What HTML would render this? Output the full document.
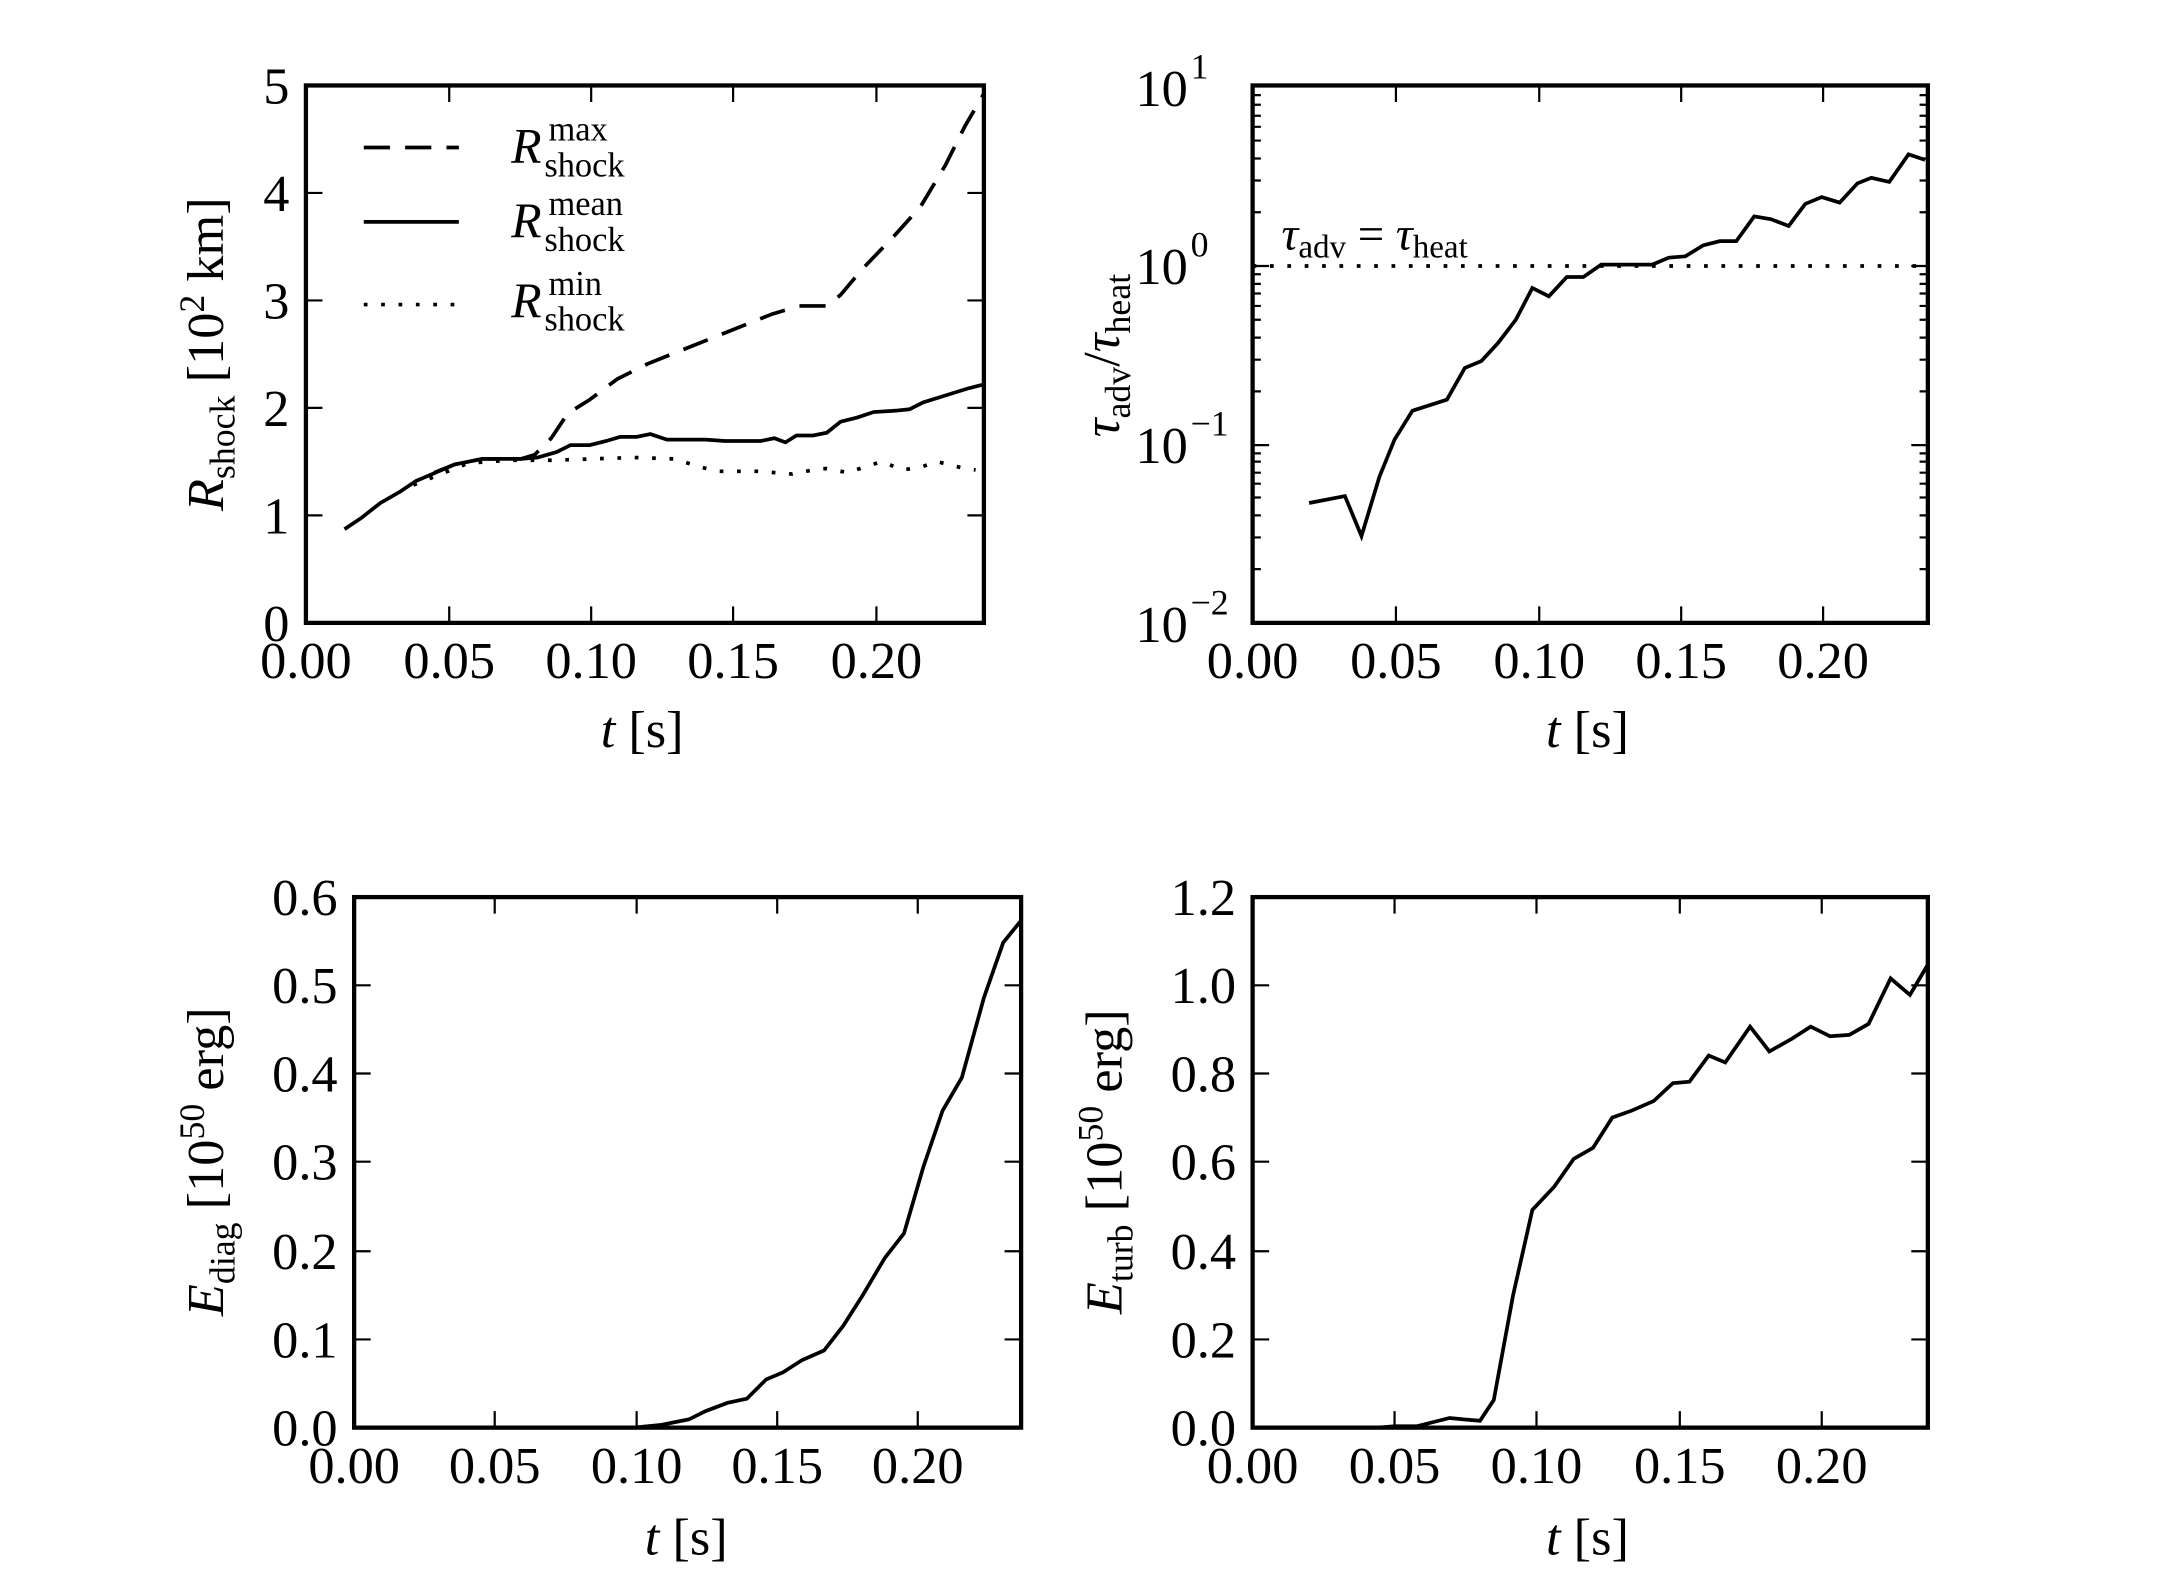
<!DOCTYPE html>
<html><head><meta charset="utf-8"><style>
html,body{margin:0;padding:0;background:#fff}
svg{display:block}
text{font-family:"Liberation Serif","DejaVu Serif",serif;fill:#000}
.ax{fill:none;stroke:#000;stroke-width:3.1}
.tk{stroke:#000;stroke-width:1.6}
.d{fill:none;stroke:#000;stroke-width:2.7;stroke-linejoin:miter}
.tl{font-size:38px}
.lb{font-size:38px}
</style></head><body>
<svg width="2161" height="1578" viewBox="0 0 1568.2 1145.1" xmlns="http://www.w3.org/2000/svg">

<!-- Panel 1 -->
<g>
<path class="tk" d="M326,62v12M429,62v12M532,62v12M636,62v12M326,452v-12M429,452v-12M532,452v-12M636,452v-12
M222,374h12M222,296h12M222,218h12M222,140h12M714,374h-12M714,296h-12M714,218h-12M714,140h-12"/>
<polyline class="d" points="250,384 262,376 276,365 290,357 302,349 316,343 330,337 350,333 364,333 378,333 390,332 404,328 414,323 428,323 440,320 450,317 462,317 472,315 484,319 498,319 512,319 526,320 540,320 552,320 562,318 570,321 578,316 590,316 600,314 610,306 622,303 634,299 650,298 660,297 670,292 686,287 702,282 714,279"/>
<polyline class="d" style="stroke-dasharray:19,11" points="315,343 330,337 350,333 364,333 378,333 388,330 400,318 412,300 428,290 448,275 470,264 500,252 530,240 560,228 580,222 600,222 610,214 626,195 650,170 668,150 686,120 700,92 714,68"/>
<polyline class="d" style="stroke-dasharray:2.7,9.9" points="300,352 315,346 340,336 370,334 400,334 430,333 460,332 490,333 505,338 520,342 550,342 575,344 590,341 600,340 615,343 630,338 640,335 655,341 668,339 680,335 700,340 708,341"/>
<rect class="ax" x="222" y="62" width="492" height="390"/>
<g class="tl" text-anchor="middle">
<text x="222" y="492">0.00</text><text x="326" y="492">0.05</text><text x="429" y="492">0.10</text><text x="532" y="492">0.15</text><text x="636" y="492">0.20</text>
</g>
<g class="tl" text-anchor="end">
<text x="210" y="465">0</text><text x="210" y="387">1</text><text x="210" y="309">2</text><text x="210" y="231">3</text><text x="210" y="153">4</text><text x="210" y="75">5</text>
</g>
<text class="lb" x="466" y="542" text-anchor="middle"><tspan font-style="italic">t</tspan> [s]</text>
<text class="lb" transform="translate(162,257) rotate(-90)" text-anchor="middle"><tspan font-style="italic">R</tspan><tspan font-size="26" dy="8">shock</tspan><tspan dy="-8"> [10</tspan><tspan font-size="26" dy="-14">2</tspan><tspan dy="14"> km]</tspan></text>
<line class="d" x1="264" y1="107" x2="333" y2="107" style="stroke-dasharray:19,11"/>
<line class="d" x1="264" y1="161" x2="333" y2="161"/>
<line class="d" x1="264" y1="221" x2="333" y2="221" style="stroke-dasharray:2.7,9.9"/>
<g font-size="36">
<text x="371" y="118"><tspan font-style="italic">R</tspan></text><text x="398" y="102" font-size="25">max</text><text x="395" y="128" font-size="25">shock</text>
<text x="371" y="172"><tspan font-style="italic">R</tspan></text><text x="398" y="156" font-size="25">mean</text><text x="395" y="182" font-size="25">shock</text>
<text x="371" y="230"><tspan font-style="italic">R</tspan></text><text x="398" y="214" font-size="25">min</text><text x="395" y="240" font-size="25">shock</text>
</g>
</g>

<!-- Panel 2 (log) -->
<g>
<path class="tk" d="M1013,62v12M1117,62v12M1220,62v12M1323,62v12M1013,452v-12M1117,452v-12M1220,452v-12M1323,452v-12
M909,193h12M909,323h12M1399,193h-12M1399,323h-12
M909,413h6M909,390h6M909,374h6M909,361h6M909,351h6M909,343h6M909,335h6M909,329h6
M909,284h6M909,261h6M909,245h6M909,232h6M909,222h6M909,213h6M909,206h6M909,199h6
M909,154h6M909,131h6M909,115h6M909,102h6M909,92h6M909,84h6M909,76h6M909,69h6
M1399,413h-6M1399,390h-6M1399,374h-6M1399,361h-6M1399,351h-6M1399,343h-6M1399,335h-6M1399,329h-6
M1399,284h-6M1399,261h-6M1399,245h-6M1399,232h-6M1399,222h-6M1399,213h-6M1399,206h-6M1399,199h-6
M1399,154h-6M1399,131h-6M1399,115h-6M1399,102h-6M1399,92h-6M1399,84h-6M1399,76h-6M1399,69h-6"/>
<line class="d" x1="909" y1="193" x2="1399" y2="193" style="stroke-dasharray:2.7,9.9"/>
<polyline class="d" points="950,365 976,360 988,389 1001,346 1012,319 1025,298 1050,290 1063,267 1075,262 1087,249 1100,232 1112,209 1124,215 1137,201 1149,201 1162,192 1199,192 1211,187 1223,186 1236,178 1248,175 1260,175 1273,157 1285,159 1298,164 1310,148 1322,143 1335,147 1348,133 1358,129 1371,132 1385,112 1397,116"/>
<rect class="ax" x="909" y="62" width="490" height="390"/>
<g class="tl" text-anchor="middle">
<text x="909" y="492">0.00</text><text x="1013" y="492">0.05</text><text x="1117" y="492">0.10</text><text x="1220" y="492">0.15</text><text x="1323" y="492">0.20</text>
</g>
<g class="tl" text-anchor="end">
<text x="862" y="466">10</text><text x="862" y="336">10</text><text x="862" y="206">10</text><text x="862" y="77">10</text>
</g>
<g font-size="26">
<text x="864" y="446">−2</text><text x="864" y="316">−1</text><text x="864" y="186">0</text><text x="864" y="57">1</text>
</g>
<text x="930" y="181" font-size="34"><tspan font-style="italic">τ</tspan><tspan font-size="24" dy="6">adv</tspan><tspan dy="-6"> = </tspan><tspan font-style="italic">τ</tspan><tspan font-size="24" dy="6">heat</tspan></text>
<text class="lb" x="1152" y="542" text-anchor="middle"><tspan font-style="italic">t</tspan> [s]</text>
<text class="lb" transform="translate(812,258) rotate(-90)" text-anchor="middle"><tspan font-style="italic">τ</tspan><tspan font-size="26" dy="8">adv</tspan><tspan dy="-8">/</tspan><tspan font-style="italic">τ</tspan><tspan font-size="26" dy="8">heat</tspan></text>
</g>

<!-- Panel 3 -->
<g>
<path class="tk" d="M359,651v12M462,651v12M564,651v12M666,651v12M359,1036v-12M462,1036v-12M564,1036v-12M666,1036v-12
M257,972h12M257,908h12M257,843h12M257,779h12M257,715h12M741,972h-12M741,908h-12M741,843h-12M741,779h-12M741,715h-12"/>
<polyline class="d" points="257,1036 460,1036 480,1034 500,1030 512,1024 528,1018 542,1015 556,1001 568,996 582,987 598,980 612,962 626,940 642,913 656,895 670,847 684,806 698,782 714,724 728,684 741,668"/>
<rect class="ax" x="257" y="651" width="484" height="385"/>
<g class="tl" text-anchor="middle">
<text x="257" y="1076">0.00</text><text x="359" y="1076">0.05</text><text x="462" y="1076">0.10</text><text x="564" y="1076">0.15</text><text x="666" y="1076">0.20</text>
</g>
<g class="tl" text-anchor="end">
<text x="245" y="1049">0.0</text><text x="245" y="985">0.1</text><text x="245" y="921">0.2</text><text x="245" y="856">0.3</text><text x="245" y="792">0.4</text><text x="245" y="728">0.5</text><text x="245" y="664">0.6</text>
</g>
<text class="lb" x="498" y="1128" text-anchor="middle"><tspan font-style="italic">t</tspan> [s]</text>
<text class="lb" transform="translate(162,843) rotate(-90)" text-anchor="middle"><tspan font-style="italic">E</tspan><tspan font-size="26" dy="8">diag</tspan><tspan dy="-8"> [10</tspan><tspan font-size="26" dy="-14">50</tspan><tspan dy="14"> erg]</tspan></text>
</g>

<!-- Panel 4 -->
<g>
<path class="tk" d="M1012,651v12M1115,651v12M1219,651v12M1322,651v12M1012,1036v-12M1115,1036v-12M1219,1036v-12M1322,1036v-12
M909,972h12M909,908h12M909,843h12M909,779h12M909,715h12M1399,972h-12M1399,908h-12M1399,843h-12M1399,779h-12M1399,715h-12"/>
<polyline class="d" points="909,1036 1000,1036 1012,1035 1028,1035 1040,1032 1052,1029 1062,1030 1074,1031 1084,1016 1098,940 1112,878 1128,861 1142,841 1156,833 1170,811 1184,806 1200,799 1214,786 1226,785 1240,766 1252,771 1270,745 1284,763 1300,754 1314,745 1328,752 1342,751 1356,743 1372,710 1386,722 1399,700"/>
<rect class="ax" x="909" y="651" width="490" height="385"/>
<g class="tl" text-anchor="middle">
<text x="909" y="1076">0.00</text><text x="1012" y="1076">0.05</text><text x="1115" y="1076">0.10</text><text x="1219" y="1076">0.15</text><text x="1322" y="1076">0.20</text>
</g>
<g class="tl" text-anchor="end">
<text x="897" y="1049">0.0</text><text x="897" y="985">0.2</text><text x="897" y="921">0.4</text><text x="897" y="856">0.6</text><text x="897" y="792">0.8</text><text x="897" y="728">1.0</text><text x="897" y="664">1.2</text>
</g>
<text class="lb" x="1152" y="1128" text-anchor="middle"><tspan font-style="italic">t</tspan> [s]</text>
<text class="lb" transform="translate(814,843) rotate(-90)" text-anchor="middle"><tspan font-style="italic">E</tspan><tspan font-size="26" dy="8">turb</tspan><tspan dy="-8"> [10</tspan><tspan font-size="26" dy="-14">50</tspan><tspan dy="14"> erg]</tspan></text>
</g>
</svg>
</body></html>
